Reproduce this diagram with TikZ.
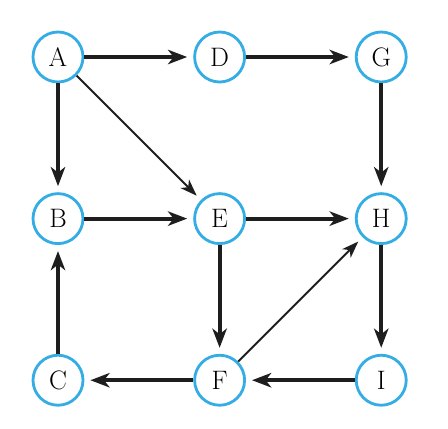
\documentclass[tikz,border=0pt]{standalone}
\usepackage{tikz}
\usetikzlibrary{positioning,arrows.meta}
\usepackage{xcolor}
\definecolor{vertexblue}{RGB}{52,172,228}
\definecolor{edgeblack}{RGB}{30,30,30}

\begin{document}
\begin{tikzpicture}[
    node distance=2.72cm,
    vertex/.style={
        draw=vertexblue,
        circle,
        line width=2pt,
        fill=white,
        minimum size=1.25cm,
        inner sep=0pt,
        font=\fontsize{19}{22}\selectfont
    },
    edge/.style={
        edgeblack,
        line width=2.8pt,
        -{Stealth[length=0.48cm,width=0.36cm,inset=0.14cm]},
        shorten >=0.15cm
    },
    thinedge/.style={
        edgeblack,
        line width=1.4pt,
        -{Stealth[length=0.42cm,width=0.3cm,inset=0.12cm]},
        shorten >=0.15cm
    }
]
\useasboundingbox (-1.45,1.425) rectangle (9.75,-9.275);
% top row
\node[vertex] (A) {A};
\node[vertex, right=of A] (D) {D};
\node[vertex, right=of D] (G) {G};
% middle row
\node[vertex, below=of A] (B) {B};
\node[vertex, right=of B] (E) {E};
\node[vertex, right=of E] (H) {H};
% bottom row
\node[vertex, below=of B] (C) {C};
\node[vertex, right=of C] (F) {F};
\node[vertex, right=of F] (I) {I};
\draw[edge] (A) -- (D);
\draw[edge] (D) -- (G);
\draw[edge] (A) -- (B);
\draw[thinedge] (A) -- (E);
\draw[edge] (G) -- (H);
\draw[edge] (B) -- (E);
\draw[edge] (E) -- (H);
\draw[edge] (E) -- (F);
\draw[thinedge] (F) -- (H);
\draw[edge] (H) -- (I);
\draw[edge] (C) -- (B);
\draw[edge] (F) -- (C);
\draw[edge] (I) -- (F);
\end{tikzpicture}
\end{document}
